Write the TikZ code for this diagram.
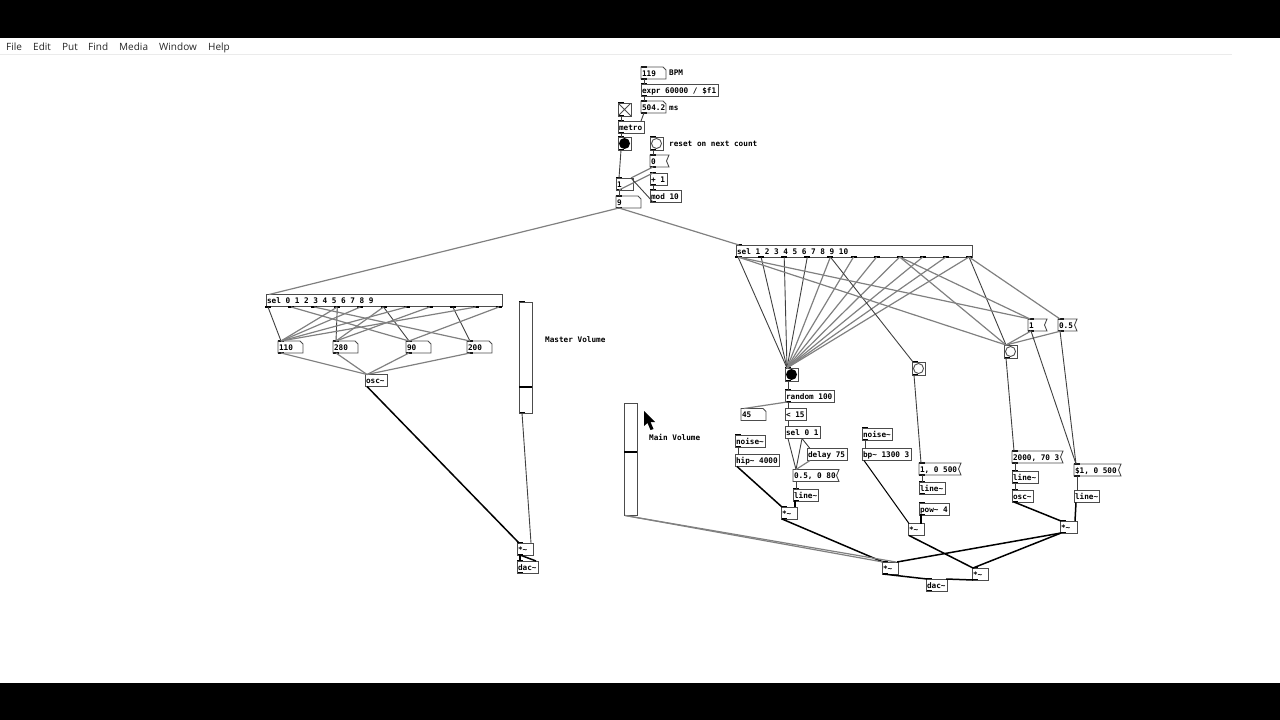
\documentclass[tikz,border=0pt]{standalone}
\usepackage{fontspec}
\setmainfont{Open Sans}
\newfontfamily\pdfont{DejaVu Sans Mono}[BoldFont={DejaVu Sans Mono Bold}]
\newcommand{\tld}{\textasciitilde}
\definecolor{edge}{gray}{0.3}
\tikzset{
	ports/.style = {append after command={\pgfextra{\let\LN\tikzlastnode
		\draw[black, line width=1.1pt] (\LN.north west) -- ++(6pt,0);
		\draw[black, line width=1.1pt] (\LN.south west) -- ++(6pt,0);}}},
	label/.style = {anchor=west, inner sep=0pt, yshift=-0.7pt, font=\pdfont\bfseries\fontsize{7.7}{9}\selectfont},
	main/.style = {anchor=north west, inner xsep=1pt, inner ysep=0pt, outer sep=0pt, align=flush left,
		minimum height=12pt, text height=7.5pt, text depth=1pt, font=\pdfont\bfseries\fontsize{7.7}{9}\selectfont},
	obj/.style = {main, draw=edge, line width=0.9pt, text width={#1pt-2pt}, ports},
	numbox/.style = {main, text width={#1pt-2pt}, ports, append after command={\pgfextra{\let\LN\tikzlastnode
		\draw[edge, line width=0.9pt] (\LN.south west) -- (\LN.north west) -- ([xshift=-3pt]\LN.north east)
			-- ([yshift=-3pt]\LN.north east) -- (\LN.south east) -- cycle;}}},
	msg/.style = {main, text width={#1pt-2pt}, ports, append after command={\pgfextra{\let\LN\tikzlastnode
		\draw[edge, line width=0.9pt] (\LN.south west) -- (\LN.north west) -- (\LN.north east)
			-- ([xshift=-2.5pt]\LN.east) -- (\LN.south east) -- cycle;}}},
	bang/.style = {anchor=north west, draw=edge, line width=0.9pt, minimum size=13pt, inner sep=0pt, outer sep=0pt, ports,
		path picture={\draw[edge] (path picture bounding box.center) circle (5pt);}},
	bangon/.style = {anchor=north west, draw=edge, line width=0.9pt, minimum size=13pt, inner sep=0pt, outer sep=0pt, ports,
		path picture={\fill[black] (path picture bounding box.center) circle (5.5pt);}},
	toggle/.style = {anchor=north west, draw=edge, line width=0.9pt, minimum size=13pt, inner sep=0pt, outer sep=0pt, ports,
		path picture={\draw[edge] (path picture bounding box.north west) -- (path picture bounding box.south east)
			(path picture bounding box.north east) -- (path picture bounding box.south west);}},
	slider/.style = {anchor=north west, draw=edge, line width=0.9pt, minimum width=13pt, minimum height=#1pt, inner sep=0pt, outer sep=0pt, ports},
	ctl/.style = {draw=black!75, line width=0.9pt},
	fan/.style = {draw=black!50, line width=1.2pt},
	sig/.style = {draw=black, line width=1.5pt}
}
\begin{document}
\begin{tikzpicture}[x=1pt, y=-1pt]
	\useasboundingbox (0,0) rectangle (1280,720);
	\fill[black] (0,0) rectangle (1280,38);
	\fill[black] (0,683) rectangle (1280,720);
	\draw[black!8] (0,54) -- (1232,54);

	% menu bar
	\foreach \mname/\mx in {File/6, Edit/33, Put/62, Find/88, Media/119, Window/159, Help/208}
		\node[anchor=base west, inner sep=0pt, font=\fontsize{10}{12}\selectfont, text=black!85] (menu\mname) at (\mx,50) {\mname};

	% counter
	\node[numbox=25] (bpm) at (641,67) {119};
	\node[label] (bpmlabel) at (669,72) {BPM};
	\node[obj=77] (expr) at (641,84) {expr 60000 / \$f1};
	\node[numbox=25] (ms) at (641,101) {504.2};
	\node[label] (mslabel) at (669,108) {ms};
	\node[toggle] (onoff) at (618,103) {};
	\node[obj=26] (metro) at (618,121) {metro};
	\node[bangon] (beat) at (618,137) {};
	\node[bang] (reset) at (650,137) {};
	\node[label] (resetlabel) at (669,143) {reset on next count};
	\node[msg=19] (zero) at (650,155) {0};
	\node[obj=17] (count) at (616,178) {1};
	\node[obj=17] (plus) at (650,173) {+ 1};
	\node[obj=31] (modten) at (650,190) {mod 10};
	\node[numbox=25] (step) at (616,196) {9};

	% left sequencer
	\node[obj=236] (selnote) at (266,294.5) {sel 0 1 2 3 4 5 6 7 8 9};
	\foreach \i in {0,...,10} {
		\coordinate (note\i) at (268+23.1*\i,307);
		\draw[black, line width=1.1pt] (265+23.1*\i,307) -- (271+23.1*\i,307);
	}
	\node[numbox=25] (pitchA) at (278,341) {110};
	\node[numbox=25] (pitchB) at (333,341) {280};
	\node[numbox=25] (pitchC) at (406,341) {90};
	\node[numbox=25] (pitchD) at (467,341) {200};
	\node[obj=22] (tone) at (365,374.5) {osc\tld};
	\node[slider=111] (master) at (519,302) {};
	\draw[black, line width=1.5pt] (519,387) -- (532,387);
	\node[label] (masterlabel) at (545,339) {Master Volume};
	\node[obj=16] (tonegain) at (517,543) {*\tld};
	\node[obj=21] (tonedac) at (517,561) {dac\tld};

	% right sequencer
	\node[obj=236] (seldrum) at (736,245) {sel 1 2 3 4 5 6 7 8 9 10};
	\foreach \i in {0,...,10} {
		\coordinate (drum\i) at (738+23.1*\i,257);
		\draw[black, line width=1.1pt] (735+23.1*\i,257) -- (741+23.1*\i,257);
	}
	\node[bangon] (hat) at (785,368) {};
	\node[bang] (snare) at (912,362) {};
	\node[bang] (kick) at (1004,345) {};
	\node[msg=19] (kickon) at (1028,319) {1};
	\node[msg=19] (kickoff) at (1058,319) {0.5};
	\node[obj=49] (rnd) at (785,390) {random 100};
	\node[numbox=25] (rndshow) at (741,408.5) {45};
	\node[obj=21] (chance) at (785,408.5) {< 15};
	\node[obj=35] (chancesel) at (785,426.5) {sel 0 1};
	\node[obj=40] (hatdelay) at (807,448.5) {delay 75};
	\node[msg=46] (hatenv) at (793,469.5) {0.5, 0 80};
	\node[obj=25] (hatline) at (793,489) {line\tld};
	\node[obj=30] (hatnoise) at (735,435) {noise\tld};
	\node[obj=44] (hatfilter) at (735,454.5) {hip\tld\ 4000};
	\node[obj=16] (hatgain) at (781,507) {*\tld};
	\node[obj=30] (snarenoise) at (862,428) {noise\tld};
	\node[obj=49] (snarefilter) at (862,448.5) {bp\tld\ 1300 3};
	\node[msg=42] (snareenv) at (919,463) {1, 0 500};
	\node[obj=26] (snareline) at (919,482) {line\tld};
	\node[obj=30] (snarepow) at (919,503) {pow\tld\ 4};
	\node[obj=16] (snaregain) at (908,523.5) {*\tld};
	\node[msg=51] (kickpitch) at (1012,451) {2000, 70 3};
	\node[obj=26] (kickpline) at (1012,471) {line\tld};
	\node[obj=21] (kickosc) at (1012,490) {osc\tld};
	\node[msg=47] (kickenv) at (1074,464) {\$1, 0 500};
	\node[obj=25] (kickline) at (1074,490.5) {line\tld};
	\node[obj=17] (kickgain) at (1060,521) {*\tld};
	\node[slider=112] (mainvol) at (624,403.5) {};
	\draw[black, line width=1.5pt] (624,452) -- (637,452);
	\node[label] (mainlabel) at (649,437) {Main Volume};
	\node[obj=16] (mixleft) at (882,562) {*\tld};
	\node[obj=16] (mixright) at (972,568) {*\tld};
	\node[obj=21] (maindac) at (926,579) {dac\tld};

	% thin wires, outlet over inlet
	\foreach \a/\b in {bpm/expr, expr/ms, onoff/metro, metro/beat, beat/count, count/step, plus/modten, reset/zero,
			rnd/chance, chance/chancesel, hat/rnd, hatenv/hatline, snareenv/snareline,
			kickpitch/kickpline, kickpline/kickosc, kickenv/kickline, snarenoise/snarefilter, hatnoise/hatfilter}
		\draw[ctl] ([xshift=3pt]\a.south west) -- ([xshift=3pt]\b.north west);
	\draw[ctl] ([xshift=3pt]ms.south west) -- ([xshift=-3pt]metro.north east);
	\draw[fan] ([xshift=3pt]zero.south west) -- ([xshift=-2pt]count.north east);
	\draw[fan] ([xshift=3pt]count.south west) -- ([xshift=3pt]plus.north west);
	\draw[ctl] ([xshift=3pt]modten.south west) -- ([xshift=-2pt]count.north east);
	\draw[fan] ([xshift=3pt]step.south west) -- ([xshift=3pt]selnote.north west);
	\draw[fan] ([xshift=3pt]step.south west) -- ([xshift=3pt]seldrum.north west);

	% left notes
	\draw[ctl] (note0) -- ([xshift=3pt]pitchA.north west);
	\draw[ctl] (note3) -- ([xshift=3pt]pitchB.north west);
	\draw[ctl] (note5) -- ([xshift=3pt]pitchC.north west);
	\draw[ctl] (note8) -- ([xshift=3pt]pitchD.north west);
	\foreach \i/\b in {1/pitchC, 2/pitchD, 3/pitchA, 4/pitchA, 5/pitchB, 6/pitchA, 7/pitchB, 9/pitchA, 10/pitchC}
		\draw[fan] (note\i) -- ([xshift=3pt]\b.north west);
	\foreach \a in {pitchA, pitchB, pitchC, pitchD}
		\draw[fan] ([xshift=3pt]\a.south west) -- ([xshift=2pt]tone.north west);
	\draw[sig] ([xshift=2pt]tone.south west) -- ([xshift=2pt]tonegain.north west);
	\draw[ctl] ([xshift=3pt]master.south west) -- ([xshift=-2pt]tonegain.north east);
	\draw[sig] ([xshift=3pt]tonegain.south west) -- ([xshift=3pt]tonedac.north west);
	\draw[sig] ([xshift=3pt]tonegain.south west) -- ([xshift=-2pt]tonedac.north east);

	% right triggers
	\foreach \i in {0,...,3}
		\draw[ctl] (drum\i) -- ([xshift=2pt]hat.north west);
	\foreach \i in {4,...,10}
		\draw[fan] (drum\i) -- ([xshift=2pt]hat.north west);
	\draw[ctl] (drum4) -- ([xshift=1pt]snare.north west);
	\draw[ctl] (drum10) -- ([xshift=2pt]kick.north west);
	\foreach \i/\b in {0/kickon, 0/kick, 7/kickon, 7/kick, 10/kickoff}
		\draw[fan] (drum\i) -- ([xshift=2pt]\b.north west);
	\draw[fan] ([xshift=3pt]kickon.south west) -- ([xshift=2pt]kick.north west);
	\draw[fan] ([xshift=3pt]kickoff.south west) -- ([xshift=2pt]kick.north west);
	\draw[ctl] ([xshift=3pt]kickon.south west) -- ([xshift=2pt]kickenv.north west);
	\draw[ctl] ([xshift=2pt]kickoff.south west) -- ([xshift=2pt]kickenv.north west);
	\draw[ctl] ([xshift=2pt]kick.south west) -- ([xshift=2pt]kickpitch.north west);
	\draw[ctl] ([xshift=2pt]snare.south west) -- ([xshift=2pt]snareenv.north west);

	% hat logic
	\draw[fan] ([xshift=2pt]rnd.south west) -- ([xshift=3pt]rndshow.north west);
	\draw[ctl] ([xshift=3pt]chancesel.south west) -- ([xshift=3pt]hatenv.north west);
	\draw[ctl] ([xshift=17pt]chancesel.south west) -- ([xshift=3pt]hatenv.north west);
	\draw[ctl] ([xshift=17pt]chancesel.south west) -- ([xshift=3pt]hatdelay.north west);
	\draw[fan] ([xshift=3pt]hatdelay.south west) -- ([xshift=3pt]hatenv.north west);

	% audio
	\draw[sig] ([xshift=2pt]hatline.south west) -- ([xshift=-2pt]hatgain.north east);
	\draw[sig] ([xshift=2pt]hatfilter.south west) -- ([xshift=1pt]hatgain.north west);
	\draw[sig, line width=1pt] ([xshift=2pt]snarefilter.south west) -- ([xshift=1pt]snaregain.north west);
	\draw[sig] ([xshift=2pt]snarepow.south west) -- ([xshift=-3pt]snaregain.north east);
	\draw[sig] ([xshift=2pt]kickosc.south west) -- ([xshift=1pt]kickgain.north west);
	\draw[sig] ([xshift=2pt]kickline.south west) -- ([xshift=-2pt]kickgain.north east);
	\draw[sig] ([xshift=1pt]hatgain.south west) -- ([xshift=1pt]mixleft.north west);
	\draw[sig] ([xshift=1pt]snaregain.south west) -- ([xshift=1pt]mixright.north west);
	\draw[sig] ([xshift=1pt]kickgain.south west) -- ([xshift=-1pt]mixleft.north east);
	\draw[sig] ([xshift=1pt]kickgain.south west) -- ([xshift=1pt]mixright.north west);
	\draw[sig] ([xshift=1pt]mixleft.south west) -- ([xshift=1pt]maindac.north west);
	\draw[sig] ([xshift=1pt]mixright.south west) -- ([xshift=-1pt]maindac.north east);
	\draw[fan] ([xshift=1pt]mainvol.south west) -- ([xshift=1pt]mixleft.north west);
	\draw[fan] ([xshift=1pt]mainvol.south west) -- ([xshift=-2pt]mixleft.north east);

	% mouse pointer
	\fill[black] (644,411) -- (644,426) -- (647.5,423) -- (650.5,430) -- (653.5,429) -- (650.5,422) -- (655,422) -- cycle;
\end{tikzpicture}
\end{document}
